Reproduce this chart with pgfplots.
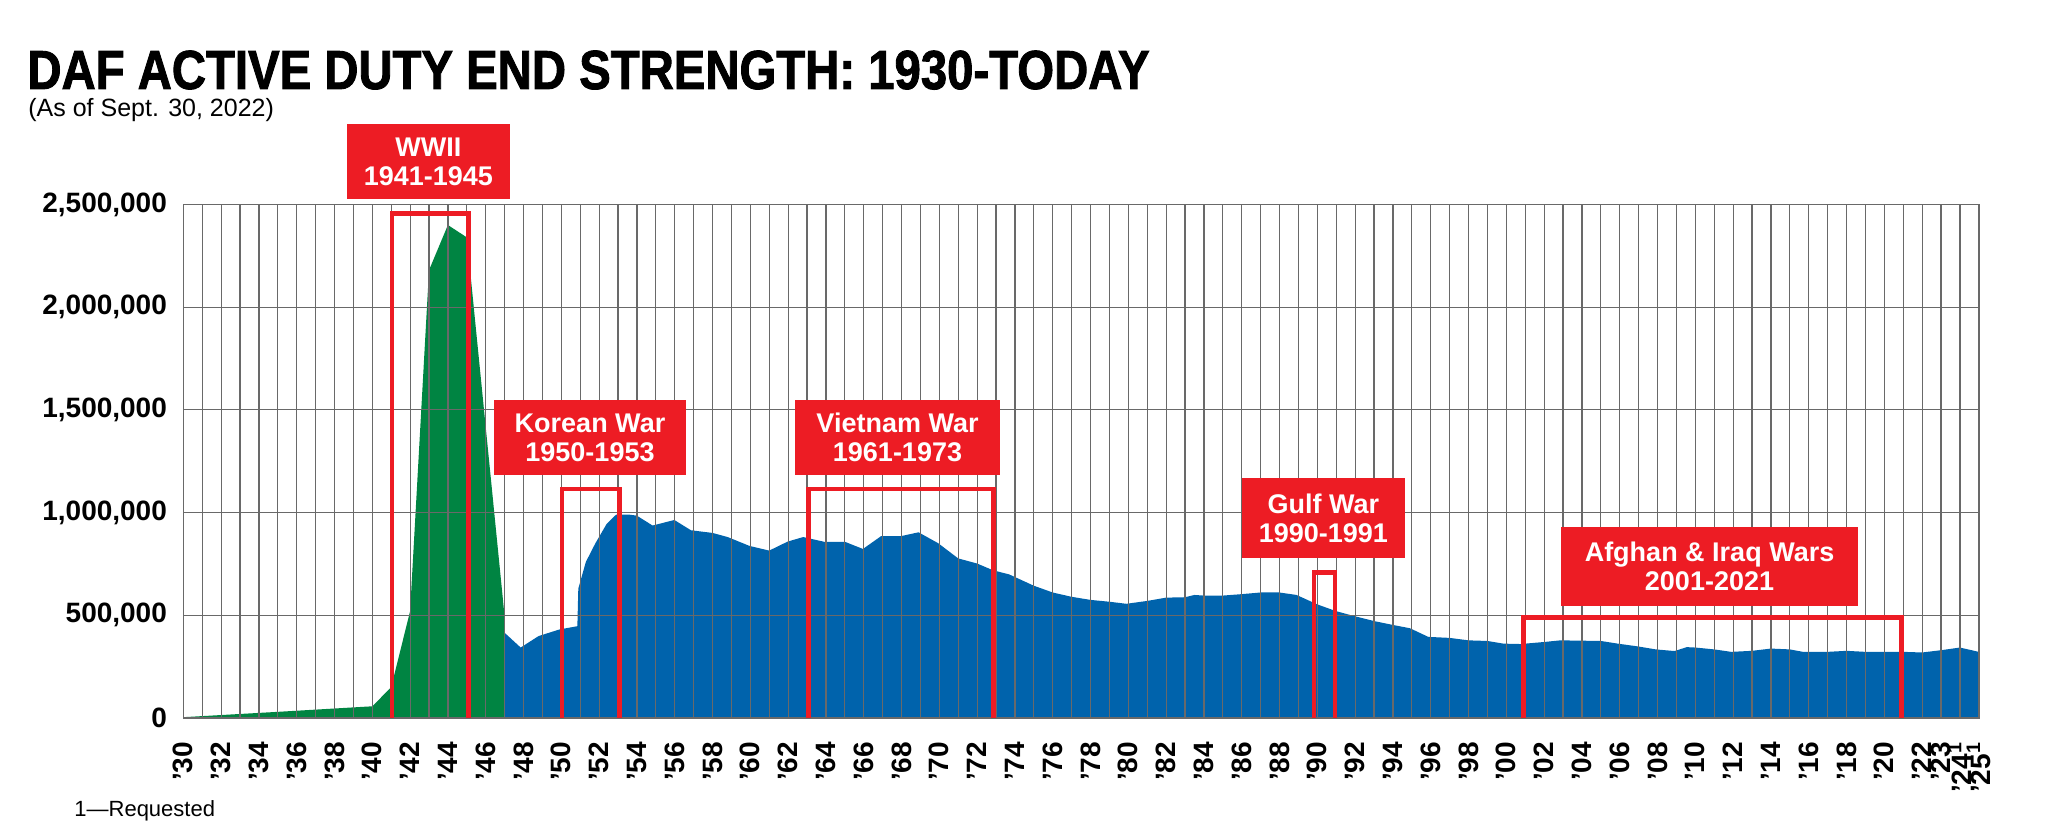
\documentclass[border=0pt]{standalone}
\usepackage{fontspec}
\setmainfont{Liberation Sans}
\newfontfamily\titlefont[FakeStretch=0.86, BoldFeatures={FakeBold=1.6}]{Liberation Sans}
\usepackage{pgfplots}
\pgfplotsset{compat=1.18}

\definecolor{warred}{RGB}{237,28,36}
\definecolor{wwgreen}{RGB}{0,132,66}
\definecolor{afblue}{RGB}{0,99,172}
\definecolor{gridgray}{RGB}{105,105,105}

\newcommand\tickfont{\fontsize{14}{16}\selectfont\bfseries}
\newcommand\boxfont{\fontsize{13.5}{14.5}\selectfont\bfseries}

\tikzset{warframe/.style={draw=warred, line width=2.3pt, line join=miter},
  warlabel/.style={fill=warred, text=white, font=\boxfont, align=center, inner sep=0pt}}

\begin{document}
\begin{tikzpicture}
\path[use as bounding box] (0,0) rectangle (1024pt,417pt);
\begin{axis}[
  at={(91.65pt,58pt)}, anchor=south west,
  scale only axis, width=897.75pt, height=256.75pt,
  xmin=1930, xmax=2025, ymin=0, ymax=2500000,
  axis on top,
  xtick={1930,1932,...,2022,2023,2024,2025},
  xticklabels={’30,’32,’34,’36,’38,’40,’42,’44,’46,’48,’50,’52,’54,’56,’58,’60,’62,’64,’66,’68,’70,’72,’74,’76,’78,’80,’82,’84,’86,’88,’90,’92,’94,’96,’98,’00,’02,’04,’06,’08,’10,’12,’14,’16,’18,’20,’22,’23,’24\textsuperscript{1},’25\textsuperscript{1}},
  extra x ticks={1931,1933,...,2021},
  extra x tick labels={},
  extra x tick style={grid=major, major tick length=0pt},
  ytick={0,500000,1000000,1500000,2000000,2500000},
  yticklabels={0,{500,000},{1,000,000},{1,500,000},{2,000,000},{2,500,000}},
  scaled y ticks=false,
  grid=major,
  major grid style={draw=gridgray, line width=0.6pt},
  axis line style={draw=gridgray, line width=0.8pt},
  major tick length=0pt,
  xticklabel style={rotate=90, anchor=east, inner sep=0pt, font=\tickfont},
  xticklabel shift=11.8pt,
  yticklabel style={anchor=east, inner sep=0pt, font=\tickfont},
  yticklabel shift=8pt,
]
% Army Air Forces, WWII era
\addplot[fill=wwgreen, draw=none] coordinates {
  (1930,4000) (1935,30000) (1940,57000) (1941,150000) (1942,520000)
  (1943,2180000) (1944,2400000) (1945,2340000) (1947,495000)
} \closedcycle;
% Department of the Air Force
\addplot[fill=afblue, draw=none] coordinates {
  (1947,415000) (1947.85,343000) (1948.8,399000) (1949.9,431000)
  (1950.85,447000) (1950.9,630000) (1951.3,760000) (1951.8,850000)
  (1952.4,945000) (1952.9,990000) (1953.6,990000) (1954,985000)
  (1954.83,937000) (1955.98,964000) (1956.86,914000) (1958,901000)
  (1958.8,881000) (1959.95,838000) (1961,815000) (1961.98,859000)
  (1962.8,881000) (1963.9,858000) (1965,858000) (1965.96,823000)
  (1966.93,886000) (1968,886000) (1968.9,904000) (1969.94,851000)
  (1971,777000) (1972,752000) (1972.85,719000) (1973.7,699000)
  (1975,644000) (1976,611000) (1977,590000) (1978,575000)
  (1979,566000) (1979.9,556000) (1981,570000) (1982,586000)
  (1983,588000) (1983.5,599000) (1984,596000) (1985,596000)
  (1986,603000) (1987,611000) (1988,611000) (1988.9,599000)
  (1990,553000) (1991,520000) (1992,495000) (1993,472000)
  (1994,453000) (1994.9,437000) (1995.87,395000) (1997,390000)
  (1998,378000) (1999,375000) (1999.85,362000) (2000.8,360000)
  (2001,362000) (2002,370000) (2002.85,378000) (2005,375000)
  (2005.9,362000) (2007,348000) (2007.9,334000) (2008.9,326000)
  (2009.55,345000) (2010,343000) (2011,334000) (2011.9,322000)
  (2013,327000) (2014,338000) (2015,334000) (2015.7,322000)
  (2017,322000) (2018,327000) (2019,322000) (2021,322000)
  (2022,319000) (2023,330000) (2024,343000) (2025,322000)
} \closedcycle;
% war periods
\coordinate (wwA) at (axis cs:1941.05,0);     \coordinate (wwB) at (axis cs:1945.1,2457000);
\coordinate (koA) at (axis cs:1950.03,0);     \coordinate (koB) at (axis cs:1953.08,1115000);
\coordinate (viA) at (axis cs:1963.07,0);     \coordinate (viB) at (axis cs:1972.86,1115000);
\coordinate (guA) at (axis cs:1989.83,0);     \coordinate (guB) at (axis cs:1990.94,709000);
\coordinate (afA) at (axis cs:2000.9,0);      \coordinate (afB) at (axis cs:2020.9,490000);
\end{axis}

\foreach \a/\b in {wwA/wwB, koA/koB, viA/viB, guA/guB, afA/afB}
  \draw[warframe] (\a) -- (\a |- \b) -- (\b) -- (\b |- \a);

\begin{scope}[x=0.5pt, y=-0.5pt, shift={(0,417pt)}]
\node[warlabel, minimum width=81.7pt, minimum height=37.7pt] at (428.4,161.7) {WWII\\1941-1945};
\node[warlabel, minimum width=96pt, minimum height=37.5pt] at (590,437.5) {Korean War\\1950-1953};
\node[warlabel, minimum width=102.5pt, minimum height=37.5pt] at (897.5,437.5) {Vietnam War\\1961-1973};
\node[warlabel, minimum width=81.7pt, minimum height=40pt] at (1323.4,518.3) {Gulf War\\1990-1991};
\node[warlabel, minimum width=148.5pt, minimum height=39.7pt] at (1709.5,566.4) {Afghan \& Iraq Wars\\2001-2021};

\node[anchor=base west, inner sep=0pt, font={\titlefont\bfseries\fontsize{27.5}{30}\selectfont}]
  at (27,89) {DAF ACTIVE DUTY END STRENGTH: 1930-TODAY};
\node[anchor=base west, inner sep=0pt, font={\fontsize{12.5}{14}\selectfont}]
  at (28,117) {(As of Sept. 30, 2022)};
\node[anchor=base west, inner sep=0pt, font={\fontsize{11}{13}\selectfont}]
  at (74,817) {1—Requested};
\end{scope}
\end{tikzpicture}
\end{document}
